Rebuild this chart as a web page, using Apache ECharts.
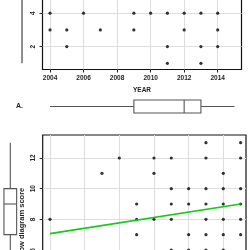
<!DOCTYPE html>
<html><head><meta charset="utf-8">
<script src="https://cdn.jsdelivr.net/npm/echarts@6/dist/echarts.min.js"></script>
<style>html,body{margin:0;padding:0;background:#fff}#c{width:250px;height:250px}</style>
</head><body><div id="c"></div>
<script>
// ---- data ----
const yearTicks = [2004, 2006, 2008, 2010, 2012, 2014];
const topYTicks = [2, 4, 6, 8];
const topYear  = [2004,2006,2009,2010,2011,2012,2013,2014, 2004,2005,2007,2009,2012,2014, 2005,2011,2013,2014, 2011,2013];
const topValue = [4,4,4,4,4,4,4,4, 3,3,3,3,3,3, 2,2,2,2, 1,1];
const flowYTicks = [2, 4, 6, 8, 10, 12];
const flowYear  = [2004, 2007, 2008, 2009,2009,2009, 2010,2010,2010, 2011,2011,2011,2011,2011, 2012,2012,2012,2012, 2013,2013,2013,2013,2013,2013,2013, 2014,2014,2014,2014,2014,2014, 2015,2015,2015,2015,2015,2015];
const flowScore = [8, 11, 12, 9,8,7, 12,11,8, 12,10,9,8,6, 10,9,7,6, 13,12,10,9,8,7,6, 11,10,9,8,7,6, 13,12,10,9,8,7];
const trendYear  = [2004, 2015];
const trendScore = [7.07, 9.0];
const yearBox = [2004, 2009, 2012, 2013, 2015];
const flowBox = [3, 7, 9, 10, 13];
const topBox  = [1, 5, 6, 7, 8];

const font = 'Liberation Sans, Arial, sans-serif';
const fmt = v => String(v);
const lab = {fontSize: 6.5, color: '#222', fontFamily: font, fontWeight: 'bold', formatter: fmt};
const grid = {show: true, borderColor: '#111', borderWidth: 1.2, backgroundColor: 'transparent', outerBoundsMode: 'none', containLabel: false};
const hid = {show: false, outerBoundsMode: 'none', containLabel: false};
const split = {show: true, lineStyle: {color: '#dedede', width: 1}};
const tick = (vals) => ({show: true, length: 3, customValues: vals, lineStyle: {color: '#222', width: 1}});

// box drawn without whisker caps, positioned through the axes' coord()
function boxRender(horizontal, halfW, color) {
  return function (params, api) {
    const v = [1, 2, 3, 4, 5].map(i => api.value(i));
    const cat = api.value(0);
    const P = val => horizontal ? api.coord([val, cat]) : api.coord([cat, val]);
    const p = v.map(P);
    const ls = {stroke: color, lineWidth: 1.1, fill: null};
    const seg = (a, b, off) => horizontal
      ? {type: 'line', shape: {x1: a[0], y1: a[1] + off, x2: b[0], y2: b[1] + off}, style: ls}
      : {type: 'line', shape: {x1: a[0] + off, y1: a[1], x2: b[0] + off, y2: b[1]}, style: ls};
    const rect = horizontal
      ? {x: p[1][0], y: p[1][1] - halfW, width: p[3][0] - p[1][0], height: 2 * halfW}
      : {x: p[3][0] - halfW, y: p[3][1], width: 2 * halfW, height: p[1][1] - p[3][1]};
    const med = horizontal
      ? {x1: p[2][0], y1: p[2][1] - halfW, x2: p[2][0], y2: p[2][1] + halfW}
      : {x1: p[2][0] - halfW, y1: p[2][1], x2: p[2][0] + halfW, y2: p[2][1]};
    return {type: 'group', children: [
      seg(p[0], p[1], 0), seg(p[3], p[4], 0),
      {type: 'rect', shape: rect, style: {stroke: color, lineWidth: 1.1, fill: '#fff'}},
      {type: 'line', shape: med, style: ls}
    ]};
  };
}

const chart = echarts.init(document.getElementById('c'), null, {renderer: 'canvas'});
chart.setOption({
  animation: false,
  grid: [
    Object.assign({left: 42.5, top: -62, width: 199, height: 131.5}, grid),          // top scatter
    Object.assign({left: 42.5, top: 96, width: 199, height: 21}, hid),               // horiz boxplot
    Object.assign({left: 42.7, top: 135, width: 203.3, height: 184}, grid),          // bottom scatter
    Object.assign({left: 0, top: 135, width: 20.6, height: 184}, hid),               // left box bottom
    Object.assign({left: 12, top: -62, width: 20, height: 131.5}, hid)               // left box top
  ],
  xAxis: [
    {gridIndex: 0, type: 'value', min: 2003.55, max: 2015.42, axisLine: {show: false},
     axisTick: tick(yearTicks), splitLine: split,
     axisLabel: Object.assign({customValues: yearTicks, margin: 5}, lab),
     name: 'YEAR', nameLocation: 'middle', nameGap: 17, nameTextStyle: {fontSize: 6.5, fontFamily: font, fontWeight: 'bold', color: '#222'}},
    {gridIndex: 1, type: 'value', min: 2003.55, max: 2015.42, show: false, splitLine: {show: false}},
    {gridIndex: 2, type: 'value', min: 2003.58, max: 2015.31, axisLine: {show: false},
     axisTick: tick(yearTicks), splitLine: split,
     axisLabel: Object.assign({customValues: yearTicks, margin: 5}, lab)},
    {gridIndex: 3, type: 'category', data: ['a'], show: false},
    {gridIndex: 4, type: 'category', data: ['a'], show: false}
  ],
  yAxis: [
    {gridIndex: 0, type: 'value', min: 0.63, max: 8.5, axisLine: {show: false},
     axisTick: tick(topYTicks), splitLine: split,
     axisLabel: Object.assign({customValues: topYTicks, rotate: 90, margin: 6}, lab)},
    {gridIndex: 1, type: 'category', data: ['a'], show: false},
    {gridIndex: 2, type: 'value', min: 1.5, max: 13.5, axisLine: {show: false},
     axisTick: tick(flowYTicks), splitLine: split,
     axisLabel: Object.assign({customValues: flowYTicks, rotate: 90, margin: 6}, lab)},
    {gridIndex: 3, type: 'value', min: 1.5, max: 13.5, show: false, splitLine: {show: false}},
    {gridIndex: 4, type: 'value', min: 0.63, max: 8.5, show: false, splitLine: {show: false}}
  ],
  series: [
    {type: 'scatter', xAxisIndex: 0, yAxisIndex: 0, symbolSize: 3.2, itemStyle: {color: '#000'},
     data: topYear.map((y, i) => [y, topValue[i]])},
    {type: 'custom', xAxisIndex: 1, yAxisIndex: 1, renderItem: boxRender(true, 6.5, '#555'),
     encode: {y: 0, x: [1, 2, 3, 4, 5]}, data: [[0].concat(yearBox)]},
    {type: 'scatter', xAxisIndex: 2, yAxisIndex: 2, symbolSize: 3.2, itemStyle: {color: '#000'},
     data: flowYear.map((y, i) => [y, flowScore[i]])},
    {type: 'line', xAxisIndex: 2, yAxisIndex: 2, symbol: 'none', lineStyle: {color: '#11cc11', width: 1.6},
     data: trendYear.map((y, i) => [y, trendScore[i]])},
    {type: 'custom', xAxisIndex: 3, yAxisIndex: 3, renderItem: boxRender(false, 6.35, '#555'),
     encode: {x: 0, y: [1, 2, 3, 4, 5]}, data: [[0].concat(flowBox)]},
    {type: 'custom', xAxisIndex: 4, yAxisIndex: 4, renderItem: boxRender(false, 6, '#333'),
     encode: {x: 0, y: [1, 2, 3, 4, 5]}, data: [[0].concat(topBox)]}
  ],
  graphic: [
    {type: 'text', left: 16, top: 103, style: {text: 'A.', font: 'bold 7px ' + font, fill: '#222'}},
    {type: 'text', x: 22, y: 223, rotation: Math.PI / 2,
     style: {text: 'Flow diagram score', font: 'bold 7.5px ' + font, fill: '#222', align: 'center', verticalAlign: 'middle'}}
  ]
});
</script></body></html>
